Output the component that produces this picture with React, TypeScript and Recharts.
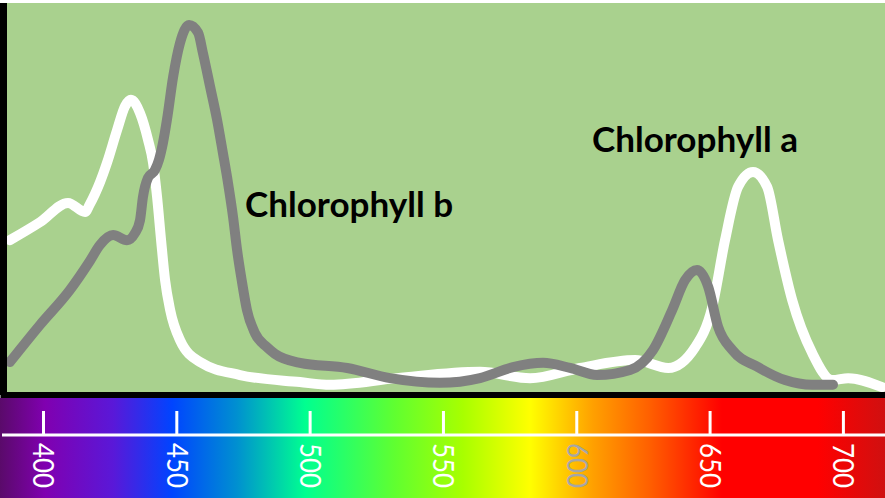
import React from "react";
import {
  LineChart,
  Line,
  XAxis,
  YAxis,
  CartesianGrid,
  ReferenceDot,
} from "recharts";

// Chlorophyll a (white curve): wavelength (nm) and relative absorbance (%)
const chlAWavelengths = [
  387.4, 398.7, 409.2, 415.6, 417.4, 421.2, 423.8, 427.6, 430.6, 432.8, 436.2,
  439.2, 441.1, 442.6, 444.1, 445.6, 447.5, 451.2, 458.7, 473.7, 496.2, 507.5,
  532.6, 563.7, 582.5, 601.2, 621.9, 634.3, 644.4, 650.8, 655.6, 660.5, 666.1,
  671.4, 675.5, 680.8, 688.3, 695.8, 701.8, 714.5,
];
const chlAValues = [
  39.5, 44.1, 49.0, 46.7, 48.7, 54.3, 59.2, 67.6, 73.7, 75.3, 71.9, 65.1, 59.2,
  50.5, 39.5, 29.3, 21.7, 14.0, 8.4, 5.1, 3.3, 2.6, 4.3, 5.9, 4.3, 6.9, 8.9,
  6.9, 12.2, 22.4, 39.5, 53.1, 56.9, 53.1, 39.5, 24.2, 10.7, 3.8, 4.3, 2.0,
];

// Chlorophyll b (grey curve)
const chlBWavelengths = [
  387.4, 398.7, 409.9, 417.4, 421.2, 426.1, 431.3, 434.3, 436.2, 437.3, 439.2,
  441.8, 443.3, 444.8, 446.3, 448.6, 451.2, 454.6, 458.0, 459.8, 462.5, 465.1,
  467.3, 469.2, 471.1, 472.6, 474.5, 476.3, 479.3, 483.8, 486.8, 496.2, 513.9,
  530.0, 548.7, 563.7, 576.1, 587.4, 597.5, 607.6, 620.0, 628.6, 635.8, 640.6,
  645.1, 649.3, 653.0, 658.3, 668.0, 678.1, 688.3, 696.1,
];
const chlBValues = [
  8.4, 17.9, 26.8, 34.2, 38.3, 40.8, 39.5, 41.3, 44.6, 50.5, 55.4, 57.4, 60.0,
  64.3, 70.2, 81.1, 89.8, 94.4, 92.4, 87.2, 78.6, 70.2, 61.7, 54.1, 45.4, 37.0,
  28.6, 21.7, 15.8, 12.2, 10.5, 8.2, 6.9, 4.3, 3.1, 4.3, 7.1, 8.2, 6.9, 5.1,
  6.4, 11.5, 21.7, 29.3, 31.9, 27.6, 17.4, 11.5, 7.1, 3.8, 2.6, 2.6,
];

// Axis ticks (nm)
const tickValues = [400, 450, 500, 550, 600, 650, 700];
const xDomain: [number, number] = [385.0, 715.6];

// Curve labels
const labelTexts = ["Chlorophyll b", "Chlorophyll a"];
const labelWavelengths = [475.6, 605.7];
const labelValues = [45.4, 62.0];
const labelWidths = [208, 206];

const chlAData = chlAWavelengths.map((w, i) => ({ nm: w, v: chlAValues[i] }));
const chlBData = chlBWavelengths.map((w, i) => ({ nm: w, v: chlBValues[i] }));

const TickMark = (props: any) => {
  const { x, y } = props;
  return (
    <line x1={x} x2={x} y1={y + 16} y2={y + 40} stroke="#ffffff" strokeWidth={3} />
  );
};

const TickLabel = (props: any) => {
  const { x, y, payload } = props;
  const fill = payload.value === 600 ? "#a6a6a6" : "#ffffff";
  const ty = y + 8;
  return (
    <text
      x={x}
      y={ty}
      dy={10}
      transform={`rotate(90, ${x}, ${ty})`}
      textAnchor="start"
      fill={fill}
      fontFamily="Lato, 'Noto Sans', sans-serif"
      fontSize={28}
      textLength={45}
      lengthAdjust="spacingAndGlyphs"
    >
      {payload.value}
    </text>
  );
};

const makeLabelShape = (text: string, width: number) => (props: any) => {
  const { cx, cy } = props;
  return (
    <text
      x={cx}
      y={cy}
      textAnchor="start"
      fill="#000000"
      fontFamily="Lato, 'Noto Sans', sans-serif"
      fontWeight={700}
      fontSize={35}
      textLength={width}
      lengthAdjust="spacingAndGlyphs"
    >
      {text}
    </text>
  );
};

const spectrum =
  "linear-gradient(to right, #5a0a6a 0px, #8000b0 45px, #5a18d8 113px, #0044ff 172px, #0090d0 237px, #00ff90 305px, #60ff30 395px, #a8ff00 463px, #ffff00 530px, #ffa000 593px, #ff6000 649px, #ff0000 722px, #ff0000 818px, #d01010 885px)";

export default function App() {
  return (
    <div style={{ position: "absolute", left: 0, top: 0, width: 885, height: 498 }}>
      <div
        style={{
          position: "absolute",
          left: 0,
          top: 398,
          width: 885,
          height: 100,
          background: spectrum,
        }}
      />
      <LineChart
        width={885}
        height={498}
        margin={{ top: 3, right: 0, bottom: 0, left: 0 }}
      >
        <CartesianGrid fill="#a9d18e" horizontal={false} vertical={false} />
        <XAxis
          dataKey="nm"
          type="number"
          domain={xDomain}
          allowDataOverflow
          ticks={tickValues}
          interval={0}
          height={40}
          tickLine={false}
          tickSize={0}
          tickMargin={0}
          axisLine={{ stroke: "#000000", strokeWidth: 6, strokeLinecap: "square" }}
          tick={<TickMark />}
        />
        <XAxis
          xAxisId="spec"
          dataKey="nm"
          type="number"
          domain={xDomain}
          allowDataOverflow
          ticks={tickValues}
          interval={0}
          height={63}
          tickLine={false}
          tickSize={0}
          tickMargin={0}
          axisLine={{ stroke: "#ffffff", strokeWidth: 3, strokeLinecap: "square" }}
          tick={<TickLabel />}
        />
        <YAxis
          type="number"
          domain={[0, 100]}
          width={3.5}
          tick={false}
          tickLine={false}
          axisLine={{ stroke: "#000000", strokeWidth: 7 }}
        />
        <Line
          data={chlAData}
          dataKey="v"
          type="monotone"
          stroke="#ffffff"
          strokeWidth={10}
          strokeLinecap="round"
          strokeLinejoin="round"
          dot={false}
          activeDot={false}
          isAnimationActive={false}
        />
        <Line
          data={chlBData}
          dataKey="v"
          type="monotone"
          stroke="#808080"
          strokeWidth={10}
          strokeLinecap="round"
          strokeLinejoin="round"
          dot={false}
          activeDot={false}
          isAnimationActive={false}
        />
        {labelTexts.map((t, i) => (
          <ReferenceDot
            key={t}
            x={labelWavelengths[i]}
            y={labelValues[i]}
            r={0}
            ifOverflow="visible"
            shape={makeLabelShape(t, labelWidths[i])}
          />
        ))}
      </LineChart>
    </div>
  );
}
